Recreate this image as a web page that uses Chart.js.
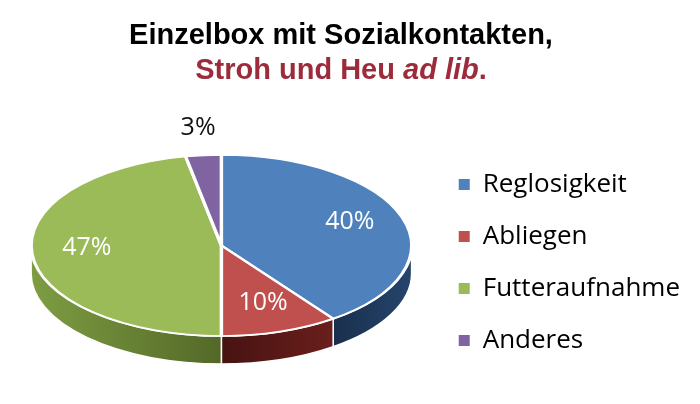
<!DOCTYPE html>
<html>
<head>
<meta charset="utf-8">
<script src="https://cdn.jsdelivr.net/npm/chart.js@4.4.1/dist/chart.umd.min.js"></script>
<style>
    html, body { margin: 0; background: #fff; }
</style>
</head>
<body>
<canvas id="pieChart" width="700" height="404"></canvas>
<script>
const categories = ['Reglosigkeit', 'Abliegen', 'Futteraufnahme', 'Anderes'];
const shares = [40, 10, 47, 3];
const topColors = ['#4f81bd', '#c0504d', '#9bbb59', '#8064a2'];
// edge colours, left end -> right end
const sideColors = [['#1a2f4c', '#25446d'], ['#461311', '#6a1f1c'], ['#7e9d42', '#536827'], ['#4a3766', '#5d4680']];
const titleLine1 = 'Einzelbox mit Sozialkontakten,';
const titleLine2 = ['Stroh und Heu ', 'ad lib', '.'];

const TILT = 0.476;  // vertical squash of the top face
const DEPTH = 28;    // thickness of the pie
const LIFT = 17;     // top face sits a bit above the area centre

function pieGeometry(chart) {
    const arc = chart.getDatasetMeta(0).data[0];
    const area = chart.chartArea;
    const rx = (area.right - area.left) / 2 * 0.9;
    return { x: arc.x, y: arc.y, r: arc.outerRadius, cx: arc.x, cy: arc.y - LIFT, rx: rx, ry: rx * TILT };
}

const pie3d = {
    id: 'pie3d',
    beforeDatasetsDraw(chart) {
        const ctx = chart.ctx;
        const g = pieGeometry(chart);
        chart.getDatasetMeta(0).data.forEach((arc, i) => {
            // only the front half of the rim is visible
            const a = Math.max(arc.startAngle, 0);
            const b = Math.min(arc.endAngle, Math.PI);
            if (b <= a) return;
            const xa = g.cx + g.rx * Math.cos(a);
            const xb = g.cx + g.rx * Math.cos(b);
            const grad = ctx.createLinearGradient(xb, 0, xa, 0);
            grad.addColorStop(0, sideColors[i][0]);
            grad.addColorStop(1, sideColors[i][1]);
            ctx.beginPath();
            ctx.ellipse(g.cx, g.cy, g.rx, g.ry, 0, a, b);
            ctx.ellipse(g.cx, g.cy + DEPTH, g.rx, g.ry, 0, b, a, true);
            ctx.closePath();
            ctx.fillStyle = grad;
            ctx.fill();
            ctx.strokeStyle = '#fff';
            ctx.lineWidth = 1.5;
            ctx.stroke();
        });
        ctx.save();
        ctx.translate(g.cx, g.cy);
        ctx.scale(g.rx / g.r, g.ry / g.r);
        ctx.translate(-g.x, -g.y);
    },
    afterDatasetsDraw(chart) {
        const ctx = chart.ctx;
        ctx.restore();
        const g = pieGeometry(chart);
        ctx.save();
        ctx.font = '25px "Open Sans", sans-serif';
        ctx.textAlign = 'center';
        ctx.textBaseline = 'middle';
        chart.getDatasetMeta(0).data.forEach((arc, i) => {
            const mid = (arc.startAngle + arc.endAngle) / 2;
            const outside = shares[i] < 5;
            const f = outside ? 1.3 : 0.71;
            ctx.fillStyle = outside ? '#111' : '#fff';
            ctx.fillText(shares[i] + '%', g.cx + g.rx * f * Math.cos(mid), g.cy + g.ry * f * Math.sin(mid) - (outside ? 0 : 4));
        });
        ctx.restore();
    },
    afterDraw(chart) {
        const ctx = chart.ctx;
        const mid = chart.width / 2 - 9;
        const bold = 'bold 29px "Liberation Sans", Arial, sans-serif';
        const fonts = [bold, 'italic ' + bold, bold];
        ctx.save();
        ctx.textBaseline = 'alphabetic';
        ctx.textAlign = 'center';
        ctx.font = bold;
        ctx.fillStyle = '#000';
        ctx.fillText(titleLine1, mid, 44);
        const widths = titleLine2.map((t, i) => { ctx.font = fonts[i]; return ctx.measureText(t).width; });
        let x = mid - widths.reduce((s, w) => s + w, 0) / 2;
        ctx.textAlign = 'left';
        ctx.fillStyle = '#9c2b3b';
        titleLine2.forEach((t, i) => {
            ctx.font = fonts[i];
            ctx.fillText(t, x, 79);
            x += widths[i];
        });
        ctx.restore();
    }
};

new Chart(document.getElementById('pieChart'), {
    type: 'pie',
    data: {
        labels: categories,
        datasets: [{
            data: shares,
            backgroundColor: topColors,
            borderColor: '#fff',
            borderWidth: 2.5
        }]
    },
    options: {
        responsive: false,
        animation: false,
        events: [],
        layout: {
            padding: { top: 122, bottom: 1, left: 10, right: 10 }
        },
        plugins: {
            tooltip: { enabled: false },
            legend: {
                position: 'right',
                align: 'center',
                labels: {
                    boxWidth: 11,
                    boxHeight: 11,
                    padding: 26,
                    color: '#404040',
                    font: { family: '"Open Sans", sans-serif', size: 26 },
                    generateLabels: () => categories.map((c, i) => ({
                        text: c,
                        fillStyle: topColors[i],
                        strokeStyle: topColors[i],
                        lineWidth: 0,
                        hidden: false,
                        index: i
                    }))
                }
            }
        }
    },
    plugins: [pie3d]
});
</script>
</body>
</html>
